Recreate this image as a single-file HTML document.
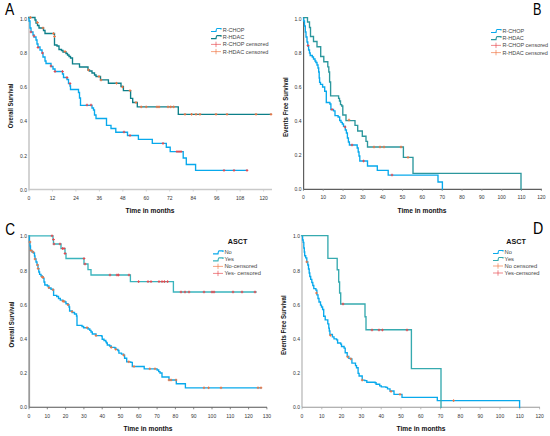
<!DOCTYPE html>
<html><head><meta charset="utf-8"><style>
html,body{margin:0;padding:0;background:#fff;width:550px;height:436px;overflow:hidden}
svg{display:block;font-family:"Liberation Sans",sans-serif}
</style></head><body>
<svg width="550" height="436" viewBox="0 0 550 436">
<rect width="550" height="436" fill="#fff"/>
<path d="M29,17V189.5H272" fill="none" stroke="#c9c9c9" stroke-width="1.6"/>
<path d="M29.0,189.5V191.5" stroke="#c9c9c9" stroke-width="0.8"/>
<text x="29.0" y="199.5" font-size="5" text-anchor="middle" font-weight="normal" fill="#333" >0</text>
<path d="M52.46,189.5V191.5" stroke="#c9c9c9" stroke-width="0.8"/>
<text x="52.46" y="199.5" font-size="5" text-anchor="middle" font-weight="normal" fill="#333" >12</text>
<path d="M75.92,189.5V191.5" stroke="#c9c9c9" stroke-width="0.8"/>
<text x="75.92" y="199.5" font-size="5" text-anchor="middle" font-weight="normal" fill="#333" >24</text>
<path d="M99.38,189.5V191.5" stroke="#c9c9c9" stroke-width="0.8"/>
<text x="99.38" y="199.5" font-size="5" text-anchor="middle" font-weight="normal" fill="#333" >36</text>
<path d="M122.84,189.5V191.5" stroke="#c9c9c9" stroke-width="0.8"/>
<text x="122.84" y="199.5" font-size="5" text-anchor="middle" font-weight="normal" fill="#333" >48</text>
<path d="M146.3,189.5V191.5" stroke="#c9c9c9" stroke-width="0.8"/>
<text x="146.3" y="199.5" font-size="5" text-anchor="middle" font-weight="normal" fill="#333" >60</text>
<path d="M169.76,189.5V191.5" stroke="#c9c9c9" stroke-width="0.8"/>
<text x="169.76" y="199.5" font-size="5" text-anchor="middle" font-weight="normal" fill="#333" >72</text>
<path d="M193.22,189.5V191.5" stroke="#c9c9c9" stroke-width="0.8"/>
<text x="193.22" y="199.5" font-size="5" text-anchor="middle" font-weight="normal" fill="#333" >84</text>
<path d="M216.68,189.5V191.5" stroke="#c9c9c9" stroke-width="0.8"/>
<text x="216.68" y="199.5" font-size="5" text-anchor="middle" font-weight="normal" fill="#333" >96</text>
<path d="M240.14000000000001,189.5V191.5" stroke="#c9c9c9" stroke-width="0.8"/>
<text x="240.14000000000001" y="199.5" font-size="5" text-anchor="middle" font-weight="normal" fill="#333" >108</text>
<path d="M263.6,189.5V191.5" stroke="#c9c9c9" stroke-width="0.8"/>
<text x="263.6" y="199.5" font-size="5" text-anchor="middle" font-weight="normal" fill="#333" >120</text>
<text x="27" y="191.7" font-size="5" text-anchor="end" font-weight="normal" fill="#333" >0.0</text>
<text x="27" y="157.5" font-size="5" text-anchor="end" font-weight="normal" fill="#333" >0.2</text>
<text x="27" y="123.3" font-size="5" text-anchor="end" font-weight="normal" fill="#333" >0.4</text>
<text x="27" y="89.1" font-size="5" text-anchor="end" font-weight="normal" fill="#333" >0.6</text>
<text x="27" y="54.89999999999999" font-size="5" text-anchor="end" font-weight="normal" fill="#333" >0.8</text>
<text x="27" y="20.7" font-size="5" text-anchor="end" font-weight="normal" fill="#333" >1.0</text>
<text x="150" y="212.5" font-size="7.6" text-anchor="middle" font-weight="bold" fill="#111" textLength="49" lengthAdjust="spacingAndGlyphs">Time in months</text>
<text transform="translate(12.6,105.9) rotate(-90)" font-size="7" font-weight="bold" text-anchor="middle" fill="#111" textLength="44.8" lengthAdjust="spacingAndGlyphs">Overall Survival</text>
<text transform="translate(4.9,15) scale(0.88,1)" font-size="15.8" fill="#000">A</text>
<path d="M29,17.5V21H30V28H31V32H33V35H34V37H36V40H37V44H38V47H40V50H42V53H43V57H45V61H46V63.5H51V66.5H53V69H55V71.5H62.5V74H63.5V77.5H67V79.5H68.5V83.5H70V86H70.5V89.5H78.5V92.5H79.5V98H80.5V105.3H92V108H93.5V110H94.5V115H96V118.5H106.5V125.4H111V128.5H115.8V132.2H127.5V135.5H138.4V139.4H152.3V143.4H166.3V147.2H170.2V151.6H183.2V158H186.3V164.5H195.6V170.4H247" fill="none" stroke="#08a9ec" stroke-width="1.35" stroke-linejoin="miter" stroke-linecap="square"/>
<path d="M29,17.5H35V20H36V23H37.5V25.5H39V28H43.5V30.5H45V33.5H54.5V45H57V46H59V49.5H61.5V50.5H63V52H66V53.5H67.5V55H69V56.5H70.5V58H72.5V63.8H79.5V67H88V70H89.5V71H92V73H94.5V75H96V76.5H100.5V79.8H108.4V83.2H121V86.5H123.4V90.6H130.6V98.4H132.7V102.5H137.3V106.9H178.3V114.3H271" fill="none" stroke="#0c7f89" stroke-width="1.35" stroke-linejoin="miter" stroke-linecap="square"/>
<path d="M29.7,32H32.3M31,30.7V33.3" stroke="#e6484f" stroke-width="1"/>
<path d="M32.7,36H35.3M34,34.7V37.3" stroke="#e6484f" stroke-width="1"/>
<path d="M36.7,47.5H39.3M38,46.2V48.8" stroke="#e6484f" stroke-width="1"/>
<path d="M41.2,53H43.8M42.5,51.7V54.3" stroke="#e6484f" stroke-width="1"/>
<path d="M49.7,66H52.3M51,64.7V67.3" stroke="#e6484f" stroke-width="1"/>
<path d="M53.7,71.5H56.3M55,70.2V72.8" stroke="#e6484f" stroke-width="1"/>
<path d="M61.2,71.5H63.8M62.5,70.2V72.8" stroke="#e6484f" stroke-width="1"/>
<path d="M65.7,77.5H68.3M67,76.2V78.8" stroke="#e6484f" stroke-width="1"/>
<path d="M68.7,83.5H71.3M70,82.2V84.8" stroke="#e6484f" stroke-width="1"/>
<path d="M85.7,105H88.3M87,103.7V106.3" stroke="#e6484f" stroke-width="1"/>
<path d="M89.7,105H92.3M91,103.7V106.3" stroke="#e6484f" stroke-width="1"/>
<path d="M122.7,132H125.3M124,130.7V133.3" stroke="#e6484f" stroke-width="1"/>
<path d="M128.7,135.5H131.3M130,134.2V136.8" stroke="#e6484f" stroke-width="1"/>
<path d="M161.7,143.4H164.3M163,142.1V144.70000000000002" stroke="#e6484f" stroke-width="1"/>
<path d="M175.7,151.6H178.3M177,150.29999999999998V152.9" stroke="#e6484f" stroke-width="1"/>
<path d="M177.7,151.6H180.3M179,150.29999999999998V152.9" stroke="#e6484f" stroke-width="1"/>
<path d="M179.7,151.6H182.3M181,150.29999999999998V152.9" stroke="#e6484f" stroke-width="1"/>
<path d="M222.7,170.4H225.3M224,169.1V171.70000000000002" stroke="#e6484f" stroke-width="1"/>
<path d="M232.7,170.4H235.3M234,169.1V171.70000000000002" stroke="#e6484f" stroke-width="1"/>
<path d="M245.7,170.4H248.3M247,169.1V171.70000000000002" stroke="#e6484f" stroke-width="1"/>
<path d="M29.2,17.5H31.8M30.5,16.2V18.8" stroke="#ef7442" stroke-width="1"/>
<path d="M36.2,22.5H38.8M37.5,21.2V23.8" stroke="#ef7442" stroke-width="1"/>
<path d="M41.7,28H44.3M43,26.7V29.3" stroke="#ef7442" stroke-width="1"/>
<path d="M52.2,33.5H54.8M53.5,32.2V34.8" stroke="#ef7442" stroke-width="1"/>
<path d="M53.2,36.5H55.8M54.5,35.2V37.8" stroke="#ef7442" stroke-width="1"/>
<path d="M63.7,51.5H66.3M65,50.2V52.8" stroke="#ef7442" stroke-width="1"/>
<path d="M87.2,70H89.8M88.5,68.7V71.3" stroke="#ef7442" stroke-width="1"/>
<path d="M97.7,76.5H100.3M99,75.2V77.8" stroke="#ef7442" stroke-width="1"/>
<path d="M99.7,80H102.3M101,78.7V81.3" stroke="#ef7442" stroke-width="1"/>
<path d="M115.2,83.2H117.8M116.5,81.9V84.5" stroke="#ef7442" stroke-width="1"/>
<path d="M121.2,87H123.8M122.5,85.7V88.3" stroke="#ef7442" stroke-width="1"/>
<path d="M128.7,90.6H131.3M130,89.3V91.89999999999999" stroke="#ef7442" stroke-width="1"/>
<path d="M134.7,102.5H137.3M136,101.2V103.8" stroke="#ef7442" stroke-width="1"/>
<path d="M139.89999999999998,106.9H142.5M141.2,105.60000000000001V108.2" stroke="#ef7442" stroke-width="1"/>
<path d="M144.89999999999998,106.9H147.5M146.2,105.60000000000001V108.2" stroke="#ef7442" stroke-width="1"/>
<path d="M155.7,106.9H158.3M157,105.60000000000001V108.2" stroke="#ef7442" stroke-width="1"/>
<path d="M157.7,106.9H160.3M159,105.60000000000001V108.2" stroke="#ef7442" stroke-width="1"/>
<path d="M166.7,106.9H169.3M168,105.60000000000001V108.2" stroke="#ef7442" stroke-width="1"/>
<path d="M169.39999999999998,106.9H172.0M170.7,105.60000000000001V108.2" stroke="#ef7442" stroke-width="1"/>
<path d="M172.39999999999998,106.9H175.0M173.7,105.60000000000001V108.2" stroke="#ef7442" stroke-width="1"/>
<path d="M183.7,114.3H186.3M185,113.0V115.6" stroke="#ef7442" stroke-width="1"/>
<path d="M190.29999999999998,114.3H192.9M191.6,113.0V115.6" stroke="#ef7442" stroke-width="1"/>
<path d="M194.7,114.3H197.3M196,113.0V115.6" stroke="#ef7442" stroke-width="1"/>
<path d="M198.7,114.3H201.3M200,113.0V115.6" stroke="#ef7442" stroke-width="1"/>
<path d="M214.7,114.3H217.3M216,113.0V115.6" stroke="#ef7442" stroke-width="1"/>
<path d="M225.7,114.3H228.3M227,113.0V115.6" stroke="#ef7442" stroke-width="1"/>
<path d="M254.7,114.3H257.3M256,113.0V115.6" stroke="#ef7442" stroke-width="1"/>
<path d="M269.7,114.3H272.3M271,113.0V115.6" stroke="#ef7442" stroke-width="1"/>
<path d="M211,31.5H216Q216.4,28.5 217,28.5H221V29.5" fill="none" stroke="#08a9ec" stroke-width="1.2"/>
<text x="222.8" y="32.0" font-size="5.5" text-anchor="start" font-weight="normal" fill="#444" >R-CHOP</text>
<path d="M211,38.7H216Q216.4,35.7 217,35.7H221V36.7" fill="none" stroke="#0c7f89" stroke-width="1.2"/>
<text x="222.8" y="39.2" font-size="5.5" text-anchor="start" font-weight="normal" fill="#444" >R-HDAC</text>
<path d="M211,44.4H221M216,41.699999999999996V47.1" fill="none" stroke="#e6484f" stroke-width="1" opacity="0.65"/>
<text x="222.8" y="46.4" font-size="5.5" text-anchor="start" font-weight="normal" fill="#444" >R-CHOP censored</text>
<path d="M211,51.6H221M216,48.9V54.300000000000004" fill="none" stroke="#ef7442" stroke-width="1" opacity="0.65"/>
<text x="222.8" y="53.6" font-size="5.5" text-anchor="start" font-weight="normal" fill="#444" >R-HDAC censored</text>
<path d="M303.6,17V189.3H542" fill="none" stroke="#5e5e5e" stroke-width="1.2"/>
<path d="M303.4,189V191" stroke="#888" stroke-width="0.8"/>
<text x="303.4" y="199" font-size="5" text-anchor="middle" font-weight="normal" fill="#333" >0</text>
<path d="M323.22999999999996,189V191" stroke="#888" stroke-width="0.8"/>
<text x="323.22999999999996" y="199" font-size="5" text-anchor="middle" font-weight="normal" fill="#333" >10</text>
<path d="M343.06,189V191" stroke="#888" stroke-width="0.8"/>
<text x="343.06" y="199" font-size="5" text-anchor="middle" font-weight="normal" fill="#333" >20</text>
<path d="M362.89,189V191" stroke="#888" stroke-width="0.8"/>
<text x="362.89" y="199" font-size="5" text-anchor="middle" font-weight="normal" fill="#333" >30</text>
<path d="M382.71999999999997,189V191" stroke="#888" stroke-width="0.8"/>
<text x="382.71999999999997" y="199" font-size="5" text-anchor="middle" font-weight="normal" fill="#333" >40</text>
<path d="M402.54999999999995,189V191" stroke="#888" stroke-width="0.8"/>
<text x="402.54999999999995" y="199" font-size="5" text-anchor="middle" font-weight="normal" fill="#333" >50</text>
<path d="M422.38,189V191" stroke="#888" stroke-width="0.8"/>
<text x="422.38" y="199" font-size="5" text-anchor="middle" font-weight="normal" fill="#333" >60</text>
<path d="M442.21,189V191" stroke="#888" stroke-width="0.8"/>
<text x="442.21" y="199" font-size="5" text-anchor="middle" font-weight="normal" fill="#333" >70</text>
<path d="M462.03999999999996,189V191" stroke="#888" stroke-width="0.8"/>
<text x="462.03999999999996" y="199" font-size="5" text-anchor="middle" font-weight="normal" fill="#333" >80</text>
<path d="M481.87,189V191" stroke="#888" stroke-width="0.8"/>
<text x="481.87" y="199" font-size="5" text-anchor="middle" font-weight="normal" fill="#333" >90</text>
<path d="M501.7,189V191" stroke="#888" stroke-width="0.8"/>
<text x="501.7" y="199" font-size="5" text-anchor="middle" font-weight="normal" fill="#333" >100</text>
<path d="M521.53,189V191" stroke="#888" stroke-width="0.8"/>
<text x="521.53" y="199" font-size="5" text-anchor="middle" font-weight="normal" fill="#333" >110</text>
<path d="M541.36,189V191" stroke="#888" stroke-width="0.8"/>
<text x="541.36" y="199" font-size="5" text-anchor="middle" font-weight="normal" fill="#333" >120</text>
<text x="301.5" y="191.3" font-size="5" text-anchor="end" font-weight="normal" fill="#333" >0.0</text>
<text x="301.5" y="157.18" font-size="5" text-anchor="end" font-weight="normal" fill="#333" >0.2</text>
<text x="301.5" y="123.06" font-size="5" text-anchor="end" font-weight="normal" fill="#333" >0.4</text>
<text x="301.5" y="88.93999999999998" font-size="5" text-anchor="end" font-weight="normal" fill="#333" >0.6</text>
<text x="301.5" y="54.82000000000001" font-size="5" text-anchor="end" font-weight="normal" fill="#333" >0.8</text>
<text x="301.5" y="20.700000000000006" font-size="5" text-anchor="end" font-weight="normal" fill="#333" >1.0</text>
<text x="422" y="212.5" font-size="7.6" text-anchor="middle" font-weight="bold" fill="#111" textLength="49" lengthAdjust="spacingAndGlyphs">Time in months</text>
<text transform="translate(288.3,107.1) rotate(-90)" font-size="7" font-weight="bold" text-anchor="middle" fill="#111" textLength="59.8" lengthAdjust="spacingAndGlyphs">Events Free Survival</text>
<text transform="translate(532.9,15) scale(0.8,1)" font-size="15.8" fill="#000">B</text>
<path d="M303.6,17.6V21H304.5V26H305.3V32H306V37H307V42H307.8V46H308.6V50H309.5V53H310.2V55.5H312.3V57H313.5V59H315V61H315.9V62.5H317V65H318V68H318.7V72H319.2V78H319.6V82.3H320.5V84.4H322.6V87H324.7V91.2H326.3V102.5H329.9V104H330.9V109.5H333.5V110.8H335V115.6H338.1V117H339.7V120.5H341V122.4H342.3V124H343.5V126.3H345.3V130H346.4V133H347.4V138H348.4V142H349.4V145H357.2V148H358.2V152H359V156H359.8V161H367.5V166H377.3V170.4H388.2V175.1H438V182H442.4V189" fill="none" stroke="#08a9ec" stroke-width="1.35" stroke-linejoin="miter" stroke-linecap="square"/>
<path d="M303.6,17.6H307.5V22H309.5V27.5H310.5V36.5H313.5V41.5H317V46.7H320.7V56.5H323.8V61.7H327.8V66.8H328.8V72H329.6V82H330.6V95.8H338.6V98.4H339.5V101H340.5V104.6H341.7V106H342.8V115H346V120.6H355V125.3H357.7V131H362.3V136.2H366V141.3H367.5V147H403.4V157.4H413V173.4H521V189" fill="none" stroke="#2c979d" stroke-width="1.35" stroke-linejoin="miter" stroke-linecap="square"/>
<path d="M306.7,45.5H309.3M308,44.2V46.8" stroke="#e6484f" stroke-width="1"/>
<path d="M330.7,109.5H333.3M332,108.2V110.8" stroke="#e6484f" stroke-width="1"/>
<path d="M343.7,127H346.3M345,125.7V128.3" stroke="#e6484f" stroke-width="1"/>
<path d="M350.7,145H353.3M352,143.7V146.3" stroke="#e6484f" stroke-width="1"/>
<path d="M362.3,161H364.90000000000003M363.6,159.7V162.3" stroke="#e6484f" stroke-width="1"/>
<path d="M390.7,175H393.3M392,173.7V176.3" stroke="#e6484f" stroke-width="1"/>
<path d="M347.7,120H350.3M349,118.7V121.3" stroke="#ef7442" stroke-width="1"/>
<path d="M372.7,147H375.3M374,145.7V148.3" stroke="#ef7442" stroke-width="1"/>
<path d="M378.7,147H381.3M380,145.7V148.3" stroke="#ef7442" stroke-width="1"/>
<path d="M382.7,147H385.3M384,145.7V148.3" stroke="#ef7442" stroke-width="1"/>
<path d="M399.7,147H402.3M401,145.7V148.3" stroke="#ef7442" stroke-width="1"/>
<path d="M406.7,157.4H409.3M408,156.1V158.70000000000002" stroke="#ef7442" stroke-width="1"/>
<path d="M491,32.5H496Q496.4,29.5 497,29.5H501V30.5" fill="none" stroke="#08a9ec" stroke-width="1.2"/>
<text x="502.4" y="33.0" font-size="5.5" text-anchor="start" font-weight="normal" fill="#444" >R-CHOP</text>
<path d="M491,39.7H496Q496.4,36.7 497,36.7H501V37.7" fill="none" stroke="#2c979d" stroke-width="1.2"/>
<text x="502.4" y="40.2" font-size="5.5" text-anchor="start" font-weight="normal" fill="#444" >R-HDAC</text>
<path d="M491,45.4H501M496,42.699999999999996V48.1" fill="none" stroke="#e6484f" stroke-width="1" opacity="0.65"/>
<text x="502.4" y="47.4" font-size="5.5" text-anchor="start" font-weight="normal" fill="#444" >R-CHOP censored</text>
<path d="M491,52.6H501M496,49.9V55.300000000000004" fill="none" stroke="#ef7442" stroke-width="1" opacity="0.65"/>
<text x="502.4" y="54.6" font-size="5.5" text-anchor="start" font-weight="normal" fill="#444" >R-HDAC censored</text>
<path d="M29.2,235V407.3" fill="none" stroke="#9a9a9a" stroke-width="1.8"/>
<path d="M29.2,407.3H267" fill="none" stroke="#555" stroke-width="1.1"/>
<path d="M29.0,407.3V409.3" stroke="#666" stroke-width="0.8"/>
<text x="29.0" y="417.5" font-size="5" text-anchor="middle" font-weight="normal" fill="#333" >0</text>
<path d="M47.3,407.3V409.3" stroke="#666" stroke-width="0.8"/>
<text x="47.3" y="417.5" font-size="5" text-anchor="middle" font-weight="normal" fill="#333" >10</text>
<path d="M65.6,407.3V409.3" stroke="#666" stroke-width="0.8"/>
<text x="65.6" y="417.5" font-size="5" text-anchor="middle" font-weight="normal" fill="#333" >20</text>
<path d="M83.9,407.3V409.3" stroke="#666" stroke-width="0.8"/>
<text x="83.9" y="417.5" font-size="5" text-anchor="middle" font-weight="normal" fill="#333" >30</text>
<path d="M102.2,407.3V409.3" stroke="#666" stroke-width="0.8"/>
<text x="102.2" y="417.5" font-size="5" text-anchor="middle" font-weight="normal" fill="#333" >40</text>
<path d="M120.5,407.3V409.3" stroke="#666" stroke-width="0.8"/>
<text x="120.5" y="417.5" font-size="5" text-anchor="middle" font-weight="normal" fill="#333" >50</text>
<path d="M138.8,407.3V409.3" stroke="#666" stroke-width="0.8"/>
<text x="138.8" y="417.5" font-size="5" text-anchor="middle" font-weight="normal" fill="#333" >60</text>
<path d="M157.1,407.3V409.3" stroke="#666" stroke-width="0.8"/>
<text x="157.1" y="417.5" font-size="5" text-anchor="middle" font-weight="normal" fill="#333" >70</text>
<path d="M175.4,407.3V409.3" stroke="#666" stroke-width="0.8"/>
<text x="175.4" y="417.5" font-size="5" text-anchor="middle" font-weight="normal" fill="#333" >80</text>
<path d="M193.70000000000002,407.3V409.3" stroke="#666" stroke-width="0.8"/>
<text x="193.70000000000002" y="417.5" font-size="5" text-anchor="middle" font-weight="normal" fill="#333" >90</text>
<path d="M212.0,407.3V409.3" stroke="#666" stroke-width="0.8"/>
<text x="212.0" y="417.5" font-size="5" text-anchor="middle" font-weight="normal" fill="#333" >100</text>
<path d="M230.3,407.3V409.3" stroke="#666" stroke-width="0.8"/>
<text x="230.3" y="417.5" font-size="5" text-anchor="middle" font-weight="normal" fill="#333" >110</text>
<path d="M248.60000000000002,407.3V409.3" stroke="#666" stroke-width="0.8"/>
<text x="248.60000000000002" y="417.5" font-size="5" text-anchor="middle" font-weight="normal" fill="#333" >120</text>
<path d="M266.9,407.3V409.3" stroke="#666" stroke-width="0.8"/>
<text x="266.9" y="417.5" font-size="5" text-anchor="middle" font-weight="normal" fill="#333" >130</text>
<text x="27" y="409.1" font-size="5" text-anchor="end" font-weight="normal" fill="#333" >0.0</text>
<text x="27" y="374.96000000000004" font-size="5" text-anchor="end" font-weight="normal" fill="#333" >0.2</text>
<text x="27" y="340.82" font-size="5" text-anchor="end" font-weight="normal" fill="#333" >0.4</text>
<text x="27" y="306.68" font-size="5" text-anchor="end" font-weight="normal" fill="#333" >0.6</text>
<text x="27" y="272.54" font-size="5" text-anchor="end" font-weight="normal" fill="#333" >0.8</text>
<text x="27" y="238.40000000000003" font-size="5" text-anchor="end" font-weight="normal" fill="#333" >1.0</text>
<text x="148" y="430.5" font-size="7.6" text-anchor="middle" font-weight="bold" fill="#111" textLength="49" lengthAdjust="spacingAndGlyphs">Time in months</text>
<text transform="translate(13.5,324.5) rotate(-90)" font-size="7" font-weight="bold" text-anchor="middle" fill="#111" textLength="46" lengthAdjust="spacingAndGlyphs">Overall Survival</text>
<text transform="translate(5.2,234.9) scale(0.86,1)" font-size="15.8" fill="#000">C</text>
<path d="M29.4,235.8V242H30V246H30.5V250.5H32V252H33.5V253H34.5V256H35V259H36V262H37V265H38V268.6H38.8V272H39.6V274.3H41V276H42.2V277H43.3V278.4H44V282H44.8V285H47.4V286H48.9V288H51V289.2H53V290H53.6V295.4H56.7V296.5H58.5V298.5H60.3V300.1H62.9V301.1H64.9V302H66V303.7H68V305H69V307H69.6V311H72.2V312.5H74.5V314H76.5V316H77V325.3H82V326.5H83.6V327.7H88V329H89.8V330.4H91V332H92.3V334H96V335.6H101.6V336.1H102.2V339.2H104V340.5H105.8V341.8H106.5V343H107.3V345H109.6V346H111.2V347.4H114.8V348H115.8V349.4H117.9V350.5H118.9V353.1H121.5V354.1H123.6V355.1H124.6V358.2H126.7V361.8H130.8V362.3H132.3V366.5H144.2V368.8H157.1V370H158.7V371.6H160V373H162V377H169V380H176.3V383.7H185.4V387.8H261" fill="none" stroke="#08a9ec" stroke-width="1.35" stroke-linejoin="miter" stroke-linecap="square"/>
<path d="M29.4,235.8H53V240H53.5V244H61V248.5H65V253.5H66V258.5H84V264H88V269.6H91V275H130.4V281.6H173.4V292H256" fill="none" stroke="#3ab4bd" stroke-width="1.35" stroke-linejoin="miter" stroke-linecap="square"/>
<path d="M28.7,242H31.3M30,240.7V243.3" stroke="#ef7442" stroke-width="1"/>
<path d="M29.7,250.5H32.3M31,249.2V251.8" stroke="#ef7442" stroke-width="1"/>
<path d="M31.7,252H34.3M33,250.7V253.3" stroke="#ef7442" stroke-width="1"/>
<path d="M33.7,259H36.3M35,257.7V260.3" stroke="#ef7442" stroke-width="1"/>
<path d="M36.2,265H38.8M37.5,263.7V266.3" stroke="#ef7442" stroke-width="1"/>
<path d="M36.800000000000004,268.6H39.4M38.1,267.3V269.90000000000003" stroke="#ef7442" stroke-width="1"/>
<path d="M40.900000000000006,276.9H43.5M42.2,275.59999999999997V278.2" stroke="#ef7442" stroke-width="1"/>
<path d="M41.7,277.5H44.3M43,276.2V278.8" stroke="#ef7442" stroke-width="1"/>
<path d="M47.6,287.7H50.199999999999996M48.9,286.4V289.0" stroke="#ef7442" stroke-width="1"/>
<path d="M51.7,289.8H54.3M53,288.5V291.1" stroke="#ef7442" stroke-width="1"/>
<path d="M61.6,301.1H64.2M62.9,299.8V302.40000000000003" stroke="#ef7442" stroke-width="1"/>
<path d="M62.5,301.4H65.1M63.8,300.09999999999997V302.7" stroke="#ef7442" stroke-width="1"/>
<path d="M66.7,304.7H69.3M68,303.4V306.0" stroke="#ef7442" stroke-width="1"/>
<path d="M70.7,311.6H73.3M72,310.3V312.90000000000003" stroke="#ef7442" stroke-width="1"/>
<path d="M85.7,327.6H88.3M87,326.3V328.90000000000003" stroke="#ef7442" stroke-width="1"/>
<path d="M94.7,335.6H97.3M96,334.3V336.90000000000003" stroke="#ef7442" stroke-width="1"/>
<path d="M109.9,347.4H112.5M111.2,346.09999999999997V348.7" stroke="#ef7442" stroke-width="1"/>
<path d="M114.5,349.4H117.1M115.8,348.09999999999997V350.7" stroke="#ef7442" stroke-width="1"/>
<path d="M122.3,355.1H124.89999999999999M123.6,353.8V356.40000000000003" stroke="#ef7442" stroke-width="1"/>
<path d="M127.50000000000001,361.8H130.10000000000002M128.8,360.5V363.1" stroke="#ef7442" stroke-width="1"/>
<path d="M132.7,366.5H135.3M134,365.2V367.8" stroke="#ef7442" stroke-width="1"/>
<path d="M148.5,368.8H151.10000000000002M149.8,367.5V370.1" stroke="#ef7442" stroke-width="1"/>
<path d="M153.7,368.8H156.3M155,367.5V370.1" stroke="#ef7442" stroke-width="1"/>
<path d="M167.7,380H170.3M169,378.7V381.3" stroke="#ef7442" stroke-width="1"/>
<path d="M169.7,380H172.3M171,378.7V381.3" stroke="#ef7442" stroke-width="1"/>
<path d="M174.7,380H177.3M176,378.7V381.3" stroke="#ef7442" stroke-width="1"/>
<path d="M202.7,387.8H205.3M204,386.5V389.1" stroke="#ef7442" stroke-width="1"/>
<path d="M207.29999999999998,387.8H209.9M208.6,386.5V389.1" stroke="#ef7442" stroke-width="1"/>
<path d="M219.7,387.8H222.3M221,386.5V389.1" stroke="#ef7442" stroke-width="1"/>
<path d="M256.7,387.8H259.3M258,386.5V389.1" stroke="#ef7442" stroke-width="1"/>
<path d="M259.7,387.8H262.3M261,386.5V389.1" stroke="#ef7442" stroke-width="1"/>
<path d="M50.7,235.8H53.3M52,234.5V237.10000000000002" stroke="#e6484f" stroke-width="1"/>
<path d="M52.2,239.5H54.8M53.5,238.2V240.8" stroke="#e6484f" stroke-width="1"/>
<path d="M52.7,244H55.3M54,242.7V245.3" stroke="#e6484f" stroke-width="1"/>
<path d="M58.7,244H61.3M60,242.7V245.3" stroke="#e6484f" stroke-width="1"/>
<path d="M61.2,248.5H63.8M62.5,247.2V249.8" stroke="#e6484f" stroke-width="1"/>
<path d="M62.7,248.5H65.3M64,247.2V249.8" stroke="#e6484f" stroke-width="1"/>
<path d="M63.7,253.5H66.3M65,252.2V254.8" stroke="#e6484f" stroke-width="1"/>
<path d="M82.7,258.5H85.3M84,257.2V259.8" stroke="#e6484f" stroke-width="1"/>
<path d="M83.7,264H86.3M85,262.7V265.3" stroke="#e6484f" stroke-width="1"/>
<path d="M108.7,275H111.3M110,273.7V276.3" stroke="#e6484f" stroke-width="1"/>
<path d="M115.7,275H118.3M117,273.7V276.3" stroke="#e6484f" stroke-width="1"/>
<path d="M117.2,275H119.8M118.5,273.7V276.3" stroke="#e6484f" stroke-width="1"/>
<path d="M127.7,275H130.3M129,273.7V276.3" stroke="#e6484f" stroke-width="1"/>
<path d="M137.29999999999998,281.6H139.9M138.6,280.3V282.90000000000003" stroke="#e6484f" stroke-width="1"/>
<path d="M146.7,281.6H149.3M148,280.3V282.90000000000003" stroke="#e6484f" stroke-width="1"/>
<path d="M149.7,281.6H152.3M151,280.3V282.90000000000003" stroke="#e6484f" stroke-width="1"/>
<path d="M157.7,281.6H160.3M159,280.3V282.90000000000003" stroke="#e6484f" stroke-width="1"/>
<path d="M160.7,281.6H163.3M162,280.3V282.90000000000003" stroke="#e6484f" stroke-width="1"/>
<path d="M163.1,281.6H165.70000000000002M164.4,280.3V282.90000000000003" stroke="#e6484f" stroke-width="1"/>
<path d="M166.29999999999998,281.6H168.9M167.6,280.3V282.90000000000003" stroke="#e6484f" stroke-width="1"/>
<path d="M179.7,292H182.3M181,290.7V293.3" stroke="#e6484f" stroke-width="1"/>
<path d="M183.7,292H186.3M185,290.7V293.3" stroke="#e6484f" stroke-width="1"/>
<path d="M187.7,292H190.3M189,290.7V293.3" stroke="#e6484f" stroke-width="1"/>
<path d="M202.7,292H205.3M204,290.7V293.3" stroke="#e6484f" stroke-width="1"/>
<path d="M210.7,292H213.3M212,290.7V293.3" stroke="#e6484f" stroke-width="1"/>
<path d="M212.7,292H215.3M214,290.7V293.3" stroke="#e6484f" stroke-width="1"/>
<path d="M231.7,292H234.3M233,290.7V293.3" stroke="#e6484f" stroke-width="1"/>
<path d="M240.7,292H243.3M242,290.7V293.3" stroke="#e6484f" stroke-width="1"/>
<path d="M253.7,292H256.3M255,290.7V293.3" stroke="#e6484f" stroke-width="1"/>
<text x="237.5" y="244" font-size="7.2" text-anchor="middle" font-weight="bold" fill="#111" >ASCT</text>
<path d="M213,253.9H218Q218.4,250.9 219,250.9H223V251.9" fill="none" stroke="#08a9ec" stroke-width="1.2"/>
<text x="224.4" y="254.4" font-size="5.75" text-anchor="start" font-weight="normal" fill="#444" >No</text>
<path d="M213,260.9H218Q218.4,257.9 219,257.9H223V258.9" fill="none" stroke="#3ab4bd" stroke-width="1.2"/>
<text x="224.4" y="261.4" font-size="5.75" text-anchor="start" font-weight="normal" fill="#444" >Yes</text>
<path d="M213,266.4H223M218,263.7V269.09999999999997" fill="none" stroke="#ef7442" stroke-width="1" opacity="0.65"/>
<text x="224.4" y="268.4" font-size="5.75" text-anchor="start" font-weight="normal" fill="#444" >No-censored</text>
<path d="M213,273.4H223M218,270.7V276.09999999999997" fill="none" stroke="#e6484f" stroke-width="1" opacity="0.65"/>
<text x="224.4" y="275.4" font-size="5.75" text-anchor="start" font-weight="normal" fill="#444" >Yes- censored</text>
<path d="M302,235V407.3" fill="none" stroke="#cdcdcd" stroke-width="1.8"/>
<path d="M302,407.3H540" fill="none" stroke="#999" stroke-width="1.1"/>
<path d="M302.0,407.3V409.3" stroke="#aaa" stroke-width="0.8"/>
<text x="302.0" y="417.5" font-size="5" text-anchor="middle" font-weight="normal" fill="#333" >0</text>
<path d="M321.8,407.3V409.3" stroke="#aaa" stroke-width="0.8"/>
<text x="321.8" y="417.5" font-size="5" text-anchor="middle" font-weight="normal" fill="#333" >10</text>
<path d="M341.6,407.3V409.3" stroke="#aaa" stroke-width="0.8"/>
<text x="341.6" y="417.5" font-size="5" text-anchor="middle" font-weight="normal" fill="#333" >20</text>
<path d="M361.4,407.3V409.3" stroke="#aaa" stroke-width="0.8"/>
<text x="361.4" y="417.5" font-size="5" text-anchor="middle" font-weight="normal" fill="#333" >30</text>
<path d="M381.2,407.3V409.3" stroke="#aaa" stroke-width="0.8"/>
<text x="381.2" y="417.5" font-size="5" text-anchor="middle" font-weight="normal" fill="#333" >40</text>
<path d="M401.0,407.3V409.3" stroke="#aaa" stroke-width="0.8"/>
<text x="401.0" y="417.5" font-size="5" text-anchor="middle" font-weight="normal" fill="#333" >50</text>
<path d="M420.8,407.3V409.3" stroke="#aaa" stroke-width="0.8"/>
<text x="420.8" y="417.5" font-size="5" text-anchor="middle" font-weight="normal" fill="#333" >60</text>
<path d="M440.6,407.3V409.3" stroke="#aaa" stroke-width="0.8"/>
<text x="440.6" y="417.5" font-size="5" text-anchor="middle" font-weight="normal" fill="#333" >70</text>
<path d="M460.4,407.3V409.3" stroke="#aaa" stroke-width="0.8"/>
<text x="460.4" y="417.5" font-size="5" text-anchor="middle" font-weight="normal" fill="#333" >80</text>
<path d="M480.2,407.3V409.3" stroke="#aaa" stroke-width="0.8"/>
<text x="480.2" y="417.5" font-size="5" text-anchor="middle" font-weight="normal" fill="#333" >90</text>
<path d="M500.0,407.3V409.3" stroke="#aaa" stroke-width="0.8"/>
<text x="500.0" y="417.5" font-size="5" text-anchor="middle" font-weight="normal" fill="#333" >100</text>
<path d="M519.8,407.3V409.3" stroke="#aaa" stroke-width="0.8"/>
<text x="519.8" y="417.5" font-size="5" text-anchor="middle" font-weight="normal" fill="#333" >110</text>
<path d="M539.6,407.3V409.3" stroke="#aaa" stroke-width="0.8"/>
<text x="539.6" y="417.5" font-size="5" text-anchor="middle" font-weight="normal" fill="#333" >120</text>
<text x="300" y="409.1" font-size="5" text-anchor="end" font-weight="normal" fill="#333" >0.0</text>
<text x="300" y="374.96000000000004" font-size="5" text-anchor="end" font-weight="normal" fill="#333" >0.2</text>
<text x="300" y="340.82" font-size="5" text-anchor="end" font-weight="normal" fill="#333" >0.4</text>
<text x="300" y="306.68" font-size="5" text-anchor="end" font-weight="normal" fill="#333" >0.6</text>
<text x="300" y="272.54" font-size="5" text-anchor="end" font-weight="normal" fill="#333" >0.8</text>
<text x="300" y="238.40000000000003" font-size="5" text-anchor="end" font-weight="normal" fill="#333" >1.0</text>
<text x="421" y="430.5" font-size="7.6" text-anchor="middle" font-weight="bold" fill="#111" textLength="49" lengthAdjust="spacingAndGlyphs">Time in months</text>
<text transform="translate(286.2,325.2) rotate(-90)" font-size="7" font-weight="bold" text-anchor="middle" fill="#111" textLength="59.7" lengthAdjust="spacingAndGlyphs">Events Free Survival</text>
<text transform="translate(533,233.9) scale(0.9,1)" font-size="15.8" fill="#000">D</text>
<path d="M302,235.6H302.6V240H303.2V242.3H303.8V248H304.3V252H304.7V255.7H305.7V257.8H306.8V261.9H307.8V265H308.5V269H309.2V273H309.8V276.5H310.7V279.3H311.8V282.5H312.8V285.5H313.8V288.6H315.9V290.1H316.9V294.8H318V298.5H319V302H320.5V305.1H321.5V307H322.6V309.5H323.7V316.2H325.2V319.8H327.8V323.9H328.8V328.1H329.3V331H329.9V334.3H332.4V336.8H334V338.9H336.6V339.9H337.6V343H340.7V344.1H341.5V346.5H344.1V348.1H345.2V352.7H347.2V356.4H348.8V358.4H350.8V358.9H351.9V363.1H355.5V365.6H356.5V367.7H358.1V373.4H359.1V376H362.2V380.1H364.8V380.6H366.8V382.2H375.1V382.7H376.1V384.2H379.7V385.8H381.3V386.8H385.9V387.3H387.5V388.9H390V391H394V393V394.4H402V397.4H437.3V400.6H519.6V407.3" fill="none" stroke="#08a9ec" stroke-width="1.35" stroke-linejoin="miter" stroke-linecap="square"/>
<path d="M302,235.6H327.9V258.3H337.2V269.7H338.7V282H339.6V293H340.7V304H365V316.7H366V329.7H411.4V368.6H441V407.3" fill="none" stroke="#36aaaf" stroke-width="1.35" stroke-linejoin="miter" stroke-linecap="square"/>
<path d="M305.5,261.9H308.1M306.8,260.59999999999997V263.2" stroke="#ef7442" stroke-width="1"/>
<path d="M315.09999999999997,293H317.7M316.4,291.7V294.3" stroke="#ef7442" stroke-width="1"/>
<path d="M329.09999999999997,335.3H331.7M330.4,334.0V336.6" stroke="#ef7442" stroke-width="1"/>
<path d="M346.4,356.9H349.0M347.7,355.59999999999997V358.2" stroke="#ef7442" stroke-width="1"/>
<path d="M349.5,358.9H352.1M350.8,357.59999999999997V360.2" stroke="#ef7442" stroke-width="1"/>
<path d="M360.9,380.1H363.5M362.2,378.8V381.40000000000003" stroke="#ef7442" stroke-width="1"/>
<path d="M389.7,391.4H392.3M391,390.09999999999997V392.7" stroke="#ef7442" stroke-width="1"/>
<path d="M398.7,394.4H401.3M400,393.09999999999997V395.7" stroke="#ef7442" stroke-width="1"/>
<path d="M452.3,400.6H454.90000000000003M453.6,399.3V401.90000000000003" stroke="#ef7442" stroke-width="1"/>
<path d="M341.7,304H344.3M343,302.7V305.3" stroke="#e6484f" stroke-width="1"/>
<path d="M370.7,330H373.3M372,328.7V331.3" stroke="#e6484f" stroke-width="1"/>
<path d="M377.7,330H380.3M379,328.7V331.3" stroke="#e6484f" stroke-width="1"/>
<path d="M381.09999999999997,330H383.7M382.4,328.7V331.3" stroke="#e6484f" stroke-width="1"/>
<path d="M405.7,330H408.3M407,328.7V331.3" stroke="#e6484f" stroke-width="1"/>
<text x="516" y="243.6" font-size="7.2" text-anchor="middle" font-weight="bold" fill="#111" >ASCT</text>
<path d="M493,253.5H498Q498.4,250.5 499,250.5H503V251.5" fill="none" stroke="#08a9ec" stroke-width="1.2"/>
<text x="504.6" y="254" font-size="5.75" text-anchor="start" font-weight="normal" fill="#444" >No</text>
<path d="M493,260.5H498Q498.4,257.5 499,257.5H503V258.5" fill="none" stroke="#36aaaf" stroke-width="1.2"/>
<text x="504.6" y="261" font-size="5.75" text-anchor="start" font-weight="normal" fill="#444" >Yes</text>
<path d="M493,266H503M498,263.3V268.7" fill="none" stroke="#ef7442" stroke-width="1" opacity="0.65"/>
<text x="504.6" y="268" font-size="5.75" text-anchor="start" font-weight="normal" fill="#444" >No censored</text>
<path d="M493,273H503M498,270.3V275.7" fill="none" stroke="#e6484f" stroke-width="1" opacity="0.65"/>
<text x="504.6" y="275" font-size="5.75" text-anchor="start" font-weight="normal" fill="#444" >Yes-censored</text>
</svg></body></html>
